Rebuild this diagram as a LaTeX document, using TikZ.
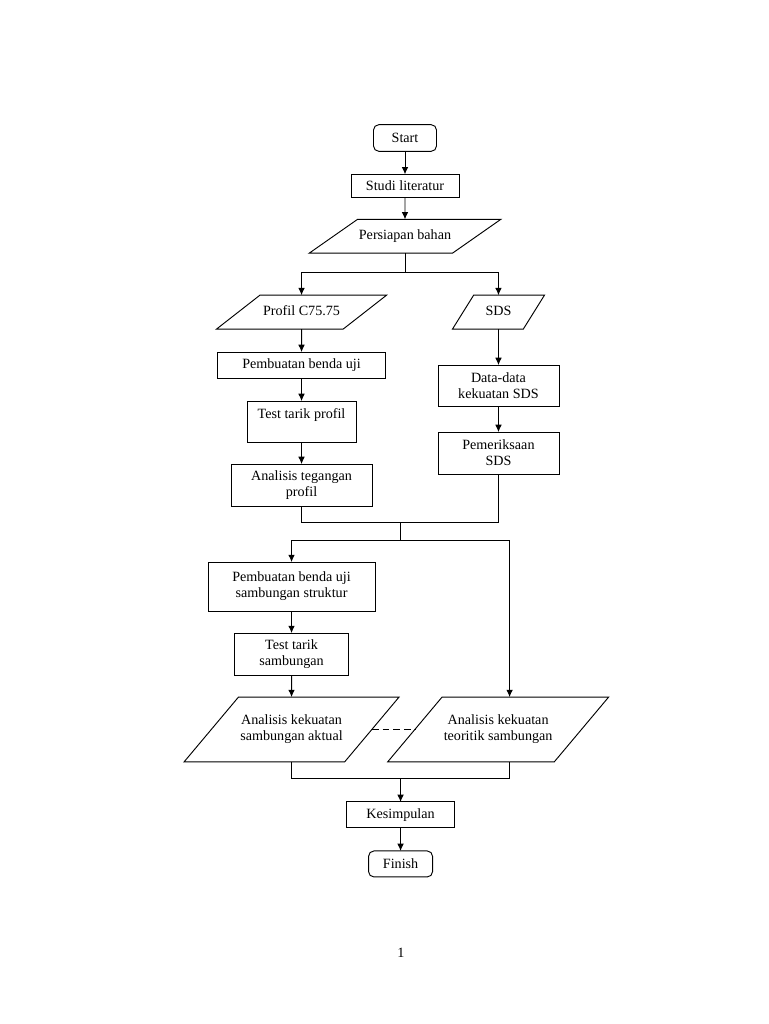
\documentclass[tikz,border=0pt]{standalone}
\usepackage{fontspec}
\setmainfont{Liberation Serif}
\usetikzlibrary{positioning}
\usetikzlibrary{arrows.meta}
\usetikzlibrary{shapes.geometric}
\usetikzlibrary{calc}

\begin{document}
\begin{tikzpicture}[font=\fontsize{10.6}{12}\selectfont, line width=0.7pt]
	\tikzstyle{term} = [draw, rectangle, rounded corners=4pt, inner sep=1pt, outer sep=0pt]
	\tikzstyle{proc} = [draw, rectangle, align=center, inner sep=1pt, outer sep=0pt]
	\tikzstyle{io} = [draw, trapezium, trapezium stretches body, align=center, inner xsep=1pt, outer sep=0pt]
	\tikzstyle{oneline} = [text height=7.3pt, text depth=2.3pt, inner ysep=7.9pt]
	\tikzstyle{line} = [draw, -{Latex[length=5.5pt,width=5pt]}]
	
	\useasboundingbox (0,0) rectangle (576pt,-768pt);
	
	\node [term, minimum width=47.25pt, minimum height=20pt] (start) at (303.75pt,-103.5pt) {Start};
	\node [proc, below=17.25pt of start, minimum width=81pt, minimum height=17.25pt] (studi) {Studi literatur};
	\node [io, oneline, below=16.5pt of studi, trapezium left angle=35, trapezium right angle=145, minimum width=142.5pt] (bahan) {Persiapan bahan};
	\node [io, oneline, below=31.5pt of bahan, xshift=-77.6pt, trapezium left angle=38, trapezium right angle=142, minimum width=127.5pt] (profil) {Profil C75.75};
	\node [io, oneline, below=31.5pt of bahan, xshift=70.1pt, trapezium left angle=58, trapezium right angle=122, minimum width=69pt] (sds) {SDS};
	\node [proc, below=17.25pt of profil, minimum width=126pt, minimum height=19.5pt] (benda) {Pembuatan benda uji};
	\node [proc, below=17.25pt of benda, minimum width=81.75pt, minimum height=30.75pt] (tarik) {Test tarik profil\\\mbox{}};
	\node [proc, below=16.5pt of tarik, minimum width=105.75pt, minimum height=31.5pt] (tegangan) {Analisis tegangan\\profil};
	\node [proc, below=27pt of sds, minimum width=90.75pt, minimum height=30.75pt] (data) {Data-data\\kekuatan SDS};
	\node [proc, below=19.5pt of data, minimum width=90.75pt, minimum height=31.5pt] (periksa) {Pemeriksaan\\SDS};
	\node [proc, below=42pt of tegangan, xshift=-7.5pt, minimum width=125.25pt, minimum height=36.75pt] (sambungan) {Pembuatan benda uji\\sambungan struktur};
	\node [proc, below=16.5pt of sambungan, minimum width=85.5pt, minimum height=31.5pt] (tarikS) {Test tarik\\sambungan};
	\node [io, below=16.5pt of tarikS, inner ysep=13.5pt, trapezium left angle=50, trapezium right angle=130, minimum width=161.25pt] (aktual) {Analisis kekuatan\\sambungan aktual};
	\node [io, right=32.25pt of aktual, inner ysep=13.5pt, trapezium left angle=50, trapezium right angle=130, minimum width=165.75pt] (teoritik) {Analisis kekuatan\\teoritik sambungan};
	
	\coordinate [below=14.25pt of bahan.south] (s1);
	\coordinate [below=12pt of tegangan.south] (j1);
	\coordinate (m1) at ($(j1)!0.5!(j1 -| periksa.south)$);
	\coordinate [below=13.5pt of m1] (s2);
	\coordinate (laneT) at ([xshift=8.6pt]teoritik.north);
	\coordinate (laneB) at ([xshift=8.6pt]teoritik.south);
	\coordinate [below=12.75pt of aktual.south] (j2);
	\coordinate (m2) at ($(j2)!0.5!(j2 -| laneB)$);
	
	\node [proc, below=17.25pt of m2, minimum width=81pt, minimum height=19.5pt] (simpul) {Kesimpulan};
	\node [term, below=17.25pt of simpul, minimum width=48pt, minimum height=19.5pt] (finish) {Finish};
	\node (hal) at (300.75pt,-714.75pt) {1};
	
	\path [line] (start) -- (studi);
	\path [line] (studi) -- (bahan);
	\draw (bahan.south) -- (s1);
	\path [line] (s1) -| (profil);
	\path [line] (s1) -| (sds);
	\path [line] (profil) -- (benda);
	\path [line] (benda) -- (tarik);
	\path [line] (tarik) -- (tegangan);
	\path [line] (sds) -- (data);
	\path [line] (data) -- (periksa);
	\draw (tegangan.south) -- (j1) -| (periksa.south);
	\draw (m1) -- (s2);
	\path [line] (s2) -| (sambungan);
	\path [line] (s2) -| (laneT);
	\path [line] (sambungan) -- (tarikS);
	\path [line] (tarikS) -- (aktual);
	\draw [dash pattern=on 5pt off 3pt] (aktual.east) -- (teoritik.west);
	\draw (aktual.south) -- (j2) -| (laneB);
	\path [line] (m2) -- (simpul);
	\path [line] (simpul) -- (finish);
\end{tikzpicture}
\end{document}
